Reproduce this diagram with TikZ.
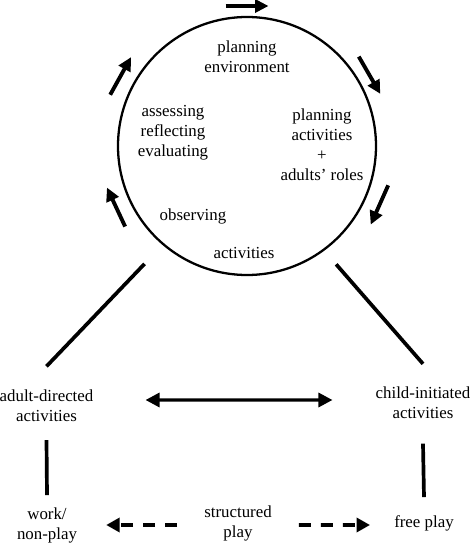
\documentclass[tikz,border=0pt]{standalone}
\usepackage{fontspec}
\setmainfont{Liberation Serif}
\usetikzlibrary{arrows.meta}

\begin{document}
\begin{tikzpicture}[
    label text/.style={align=center, font=\fontsize{9.6}{11.4}\selectfont},
    cycle arrow/.style={-{Triangle[length=0.27cm,width=0.26cm]}, line width=2.2pt},
    side line/.style={line width=2.1pt},
    both arrow/.style={{Triangle[length=0.28cm,width=0.28cm]}-{Triangle[length=0.28cm,width=0.28cm]}, line width=1.8pt},
    dash arrow/.style={-{Triangle[length=0.27cm,width=0.28cm]}, line width=2pt, dash pattern=on 0.24cm off 0.2cm}
  ]
\useasboundingbox (0,0) rectangle (9.48,10.9);

% cycle
	\node[circle, draw, line width=1.3pt, minimum size=5.16cm] (ring) at (4.94,7.98) {};
	\node[label text] (plenv) at (4.94,9.76) {planning\\environment};
	\node[label text] (assess) at (3.46,8.24) {assessing\\reflecting\\evaluating};
	\node[label text] (planact) at (6.44,8.01) {planning\\activities\\+\\adults’ roles};
	\node[label text] (observ) at (3.86,6.58) {observing};
	\node[label text] (activ) at (4.88,5.84) {activities};

	% cycle arrows
	\foreach \a/\d in {90/2.8, 30/2.83, -24/2.9, 205/2.89, 151/2.89}
		\draw[cycle arrow] (ring.center) ++(\a:\d) ++(\a+90:0.43) -- ++(\a-90:0.86);

% activities and play
	\node[label text] (adult) at (0.93,2.79) {adult-directed\\activities};
	\node[label text] (child) at (8.46,2.84) {child-initiated\\activities};
	\node[label text] (work) at (0.94,0.40) {work/\\non-play};
	\node[label text] (struct) at (4.76,0.43) {structured\\play};
	\node[label text] (free) at (8.48,0.44) {free play};

	%Links
	\draw[side line] ([shift={(229:0.52)}]ring.229) -- ([yshift=0.34cm]adult.north);
	\draw[side line] ([shift={(307:0.36)}]ring.307) -- ([yshift=0.34cm]child.north);
	\draw[side line] ([yshift=-0.25cm]adult.south) -- ([yshift=0.12cm]work.north);
	\draw[side line] ([yshift=-0.37cm]child.south) -- ([yshift=0.24cm]free.north);

	\draw[both arrow] ([xshift=0.92cm,yshift=0.11cm]adult.east) -- ([xshift=-0.74cm,yshift=0.06cm]child.west);

	\draw[dash arrow] ([xshift=-0.42cm,yshift=-0.03cm]struct.west) -- ([xshift=0.46cm]work.east);
	\draw[dash arrow] ([xshift=0.42cm,yshift=-0.03cm]struct.east) -- ([xshift=-0.36cm,yshift=-0.04cm]free.west);
\end{tikzpicture}
\end{document}
